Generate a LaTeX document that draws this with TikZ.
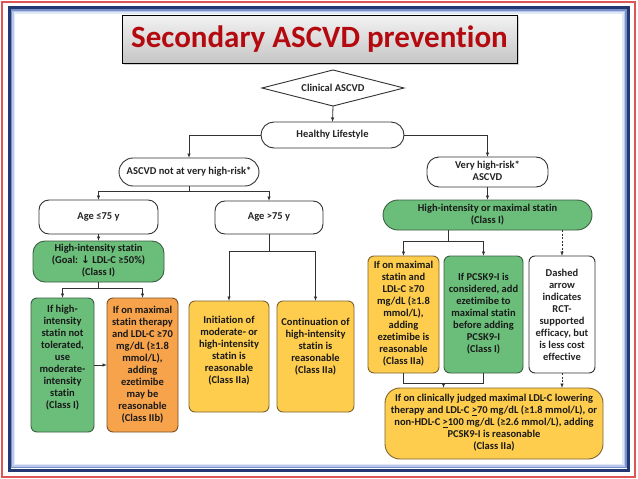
\documentclass[tikz,border=0pt]{standalone}
\usepackage{fontspec}
\setmainfont{Carlito}[Ligatures={NoCommon}]
\newfontfamily\djv{DejaVu Sans}
\usetikzlibrary{shapes.geometric,arrows.meta,calc,shadows}
\definecolor{gfill}{RGB}{106,190,122}
\definecolor{ofill}{RGB}{247,163,76}
\definecolor{yfill}{RGB}{254,205,78}
\definecolor{gline}{RGB}{60,95,65}
\definecolor{oline}{RGB}{120,80,40}
\definecolor{yline}{RGB}{125,100,45}
\definecolor{lgray}{RGB}{50,50,50}
\definecolor{tgray}{RGB}{35,35,35}
\definecolor{tdark}{RGB}{25,25,25}
\definecolor{titlered}{RGB}{180,10,15}
\definecolor{framered}{RGB}{222,85,85}
\definecolor{frameblue}{RGB}{35,55,115}
\definecolor{fb1}{RGB}{120,145,200}
\definecolor{fb2}{RGB}{185,200,235}
\definecolor{fb3}{RGB}{225,232,248}
\newcommand\bx[4]{\parbox[c][#2][c]{#1}{\centering\begin{tabular}{@{}c@{}}#4\end{tabular}\par\vspace{#3}}}
\begin{document}
\begin{tikzpicture}[x=1pt,y=-1pt,
  nbase/.style={inner sep=0pt, outer sep=0pt, line width=0.9pt, font=\bfseries\fontsize{10.5}{12}\selectfont},
  wbox/.style={nbase, draw=lgray, fill=white, text=tgray, rounded corners=#1},
  wbox/.default=6,
  gbox/.style={nbase, draw=gline, fill=gfill, text=tdark, rounded corners=#1},
  gbox/.default=6,
  obox/.style={nbase, draw=oline, fill=ofill, text=tdark, rounded corners=#1},
  obox/.default=6,
  ybox/.style={nbase, draw=yline, fill=yfill, text=tdark, rounded corners=#1},
  ybox/.default=6,
  ln/.style={draw=lgray, line width=0.8pt},
  arr/.style={ln, -{Latex[length=4.5pt,width=3.5pt]}},
  darr/.style={arr, dash pattern=on 2pt off 1.5pt}]
\useasboundingbox (0,0) rectangle (638,479);
\fill[white] (0,0) rectangle (638,479);
% frame
\draw[framered, line width=2.5pt] (2,2) rectangle (635,477);
\draw[frameblue, line width=3pt] (9,7.5) rectangle (628.5,470);
\draw[fb1, line width=1.5pt] (11.5,10) rectangle (626,467.5);
\draw[fb2, line width=1.5pt] (13,11.5) rectangle (624.5,466);
\draw[fb3, line width=1.5pt] (14.5,13) rectangle (623,464.5);
% title
\node[nbase, draw=black, line width=0.7pt, top color=gray!10, bottom color=gray!45,
  minimum width=395pt, minimum height=48pt,
  drop shadow={shadow xshift=2pt, shadow yshift=-2pt, opacity=0.35},
  font=\bfseries\fontsize{31}{36}\selectfont, text=titlered] (title) at (319.5,39) {Secondary ASCVD prevention};
% nodes
\node[nbase, diamond, aspect=4, draw=lgray, fill=white, text=tgray, minimum width=142pt, minimum height=36pt] (dia) at (333,88) {Clinical ASCVD};
\node[wbox=13] (healthy) at (332.5,135) {\bx{143pt}{26pt}{0pt}{Healthy Lifestyle}};
\node[wbox=14] (notvh) at (189,172) {\bx{140pt}{28pt}{0pt}{ASCVD not at very high-risk*}};
\node[wbox=12] (vh) at (487.5,172) {\bx{121pt}{30pt}{0pt}{Very high-risk*\\ASCVD}};
\node[wbox=10] (age1) at (98.5,217) {\bx{119pt}{34pt}{0pt}{Age ≤75 y}};
\node[wbox=10] (age2) at (269,217.5) {\bx{108pt}{33pt}{0pt}{Age >75 y}};
\node[gbox=12] (his) at (98.5,261.5) {\bx{131pt}{41pt}{0pt}{High-intensity statin\\(Goal: {\djv ↓} LDL-C ≥50\%)\\(Class I)}};
\node[gbox=15] (hims) at (487.5,215) {\bx{209pt}{30pt}{0pt}{High-intensity or maximal statin\\(Class I)}};
\node[gbox] (g1) at (62.5,365) {\bx{63pt}{134pt}{14pt}{If high-\\intensity\\statin not\\tolerated,\\use\\moderate-\\intensity\\statin\\(Class I)}};
\node[obox] (o1) at (142.5,365) {\bx{71pt}{134pt}{0pt}{If on maximal\\statin therapy\\and LDL-C ≥70\\mg/dL (≥1.8\\mmol/L),\\adding\\ezetimibe\\may be\\reasonable\\(Class IIb)}};
\node[ybox] (y1) at (229,356.5) {\bx{80pt}{111pt}{10pt}{Initiation of\\moderate- or\\high-intensity\\statin is\\reasonable\\(Class IIa)}};
\node[ybox] (y2) at (315.5,356.5) {\bx{77pt}{111pt}{18pt}{Continuation of\\high-intensity\\statin is\\reasonable\\(Class IIa)}};
\node[ybox] (y3) at (403.5,314.5) {\bx{71pt}{117pt}{0pt}{If on maximal\\statin and\\LDL-C ≥70\\mg/dL (≥1.8\\mmol/L),\\adding\\ezetimibe is\\reasonable\\(Class IIa)}};
\node[gbox] (g2) at (483.5,314.5) {\bx{79pt}{117pt}{0pt}{If PCSK9-I is\\considered, add\\ezetimibe to\\maximal statin\\before adding\\PCSK9-I\\(Class I)}};
\node[wbox] (w1) at (562,314.5) {\bx{66pt}{117pt}{-4pt}{Dashed\\arrow\\indicates\\RCT-\\supported\\efficacy, but\\is less cost\\effective}};
\node[ybox=15] (y4) at (494,423.5) {\bx{218pt}{71pt}{0pt}{If on clinically judged maximal LDL-C lowering\\therapy and LDL-C \underline{>}70 mg/dL (≥1.8 mmol/L), or\\non-HDL-C \underline{>}100 mg/dL (≥2.6 mmol/L), adding\\PCSK9-I is reasonable\\(Class IIa)}};
% connectors
\draw[arr] (dia.south) -- (healthy.north);
\draw[arr] (healthy.west) -| (notvh.north);
\draw[arr] (healthy.east) -| (vh.north);
\coordinate (j1) at ($(notvh.south)+(0,5)$);
\draw[ln] (notvh.south) -- (j1);
\draw[arr] (j1) -| (age1.north);
\draw[arr] (j1) -| (age2.north);
\draw[arr] (age1.south) -- (his.north);
\coordinate (j2) at ($(his.south)+(0,6)$);
\draw[ln] (his.south) -- (j2);
\draw[arr] (j2) -| (g1.north);
\draw[arr] (j2) -| (o1.north);
\draw[arr] (g1.east) -- (o1.west);
\coordinate (j3) at ($(age2.south)+(0,17)$);
\draw[ln] (age2.south) -- (j3);
\draw[arr] (j3) -| (y1.north);
\draw[arr] (j3) -| (y2.north);
\draw[arr] (vh.south) -- (hims.north);
\coordinate (h1) at ([xshift=-39.5pt]hims.south);
\coordinate (j4) at ($(h1)+(0,11)$);
\draw[ln] (h1) -- (j4);
\draw[arr] (j4) -| (y3.north);
\draw[arr] (j4) -| (g2.north);
\draw[darr] (w1.north |- hims.south) -- (w1.north);
\coordinate (j5) at ($(y3.south)+(0,10)$);
\draw[ln] (y3.south) -- (j5) -| (g2.south);
\coordinate (j6) at ($(j5)!0.5!(j5 -| g2.south)$);
\draw[arr] (j6) -- (j6 |- y4.north);
\draw[darr] (w1.south) -- (w1.south |- y4.north);
\end{tikzpicture}
\end{document}
